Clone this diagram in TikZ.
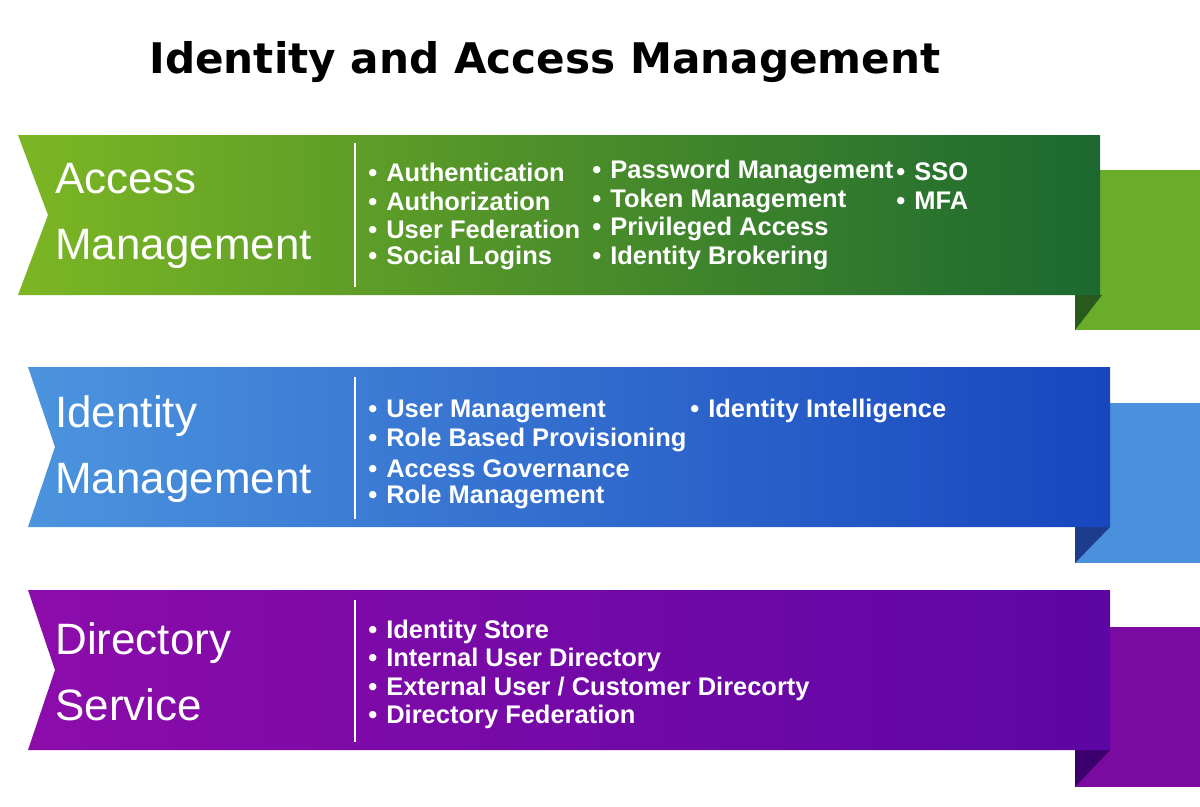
\documentclass[tikz,border=0pt]{standalone}
\usepackage{fontspec}
\setmainfont{Liberation Sans}
\newfontfamily\titlefont{DejaVu Sans}
\begin{document}
\begin{tikzpicture}[x=0.02cm,y=-0.02cm,
  item/.style={anchor=west,inner sep=0pt,text=white,font=\fontsize{14.5pt}{16pt}\selectfont\bfseries},
  biglabel/.style={anchor=west,inner sep=0pt,text=white,align=left,font=\fontsize{25pt}{37.5pt}\selectfont},
  divider/.style={white,line width=1.6pt}]
\useasboundingbox (0,0) rectangle (1200,806);
\fill[white] (0,0) rectangle (1200,806);
\node[font=\titlefont\bfseries\fontsize{24pt}{28pt}\selectfont] (title) at (545,62) {Identity and Access Management};
\newcommand{\itm}[1]{\makebox[0.36cm][l]{•}#1}
% banner 1
\fill[color={rgb,255:red,106;green,173;blue,40}] (1075,170) rectangle (1200,330);
\fill[color={rgb,255:red,40;green,90;blue,30}] (1075,295) -- (1102,295) -- (1075,330) -- cycle;
\shade[left color={rgb,255:red,124;green,182;blue,36},right color={rgb,255:red,28;green,104;blue,48}]
  (18,135) -- (1100,135) -- (1100,295) -- (18,295) -- (48,215) -- cycle;
% banner 2
\fill[color={rgb,255:red,74;green,144;blue,220}] (1075,403) rectangle (1200,563);
\fill[color={rgb,255:red,30;green,60;blue,140}] (1075,527) -- (1110,527) -- (1075,563) -- cycle;
\shade[left color={rgb,255:red,76;green,148;blue,222},right color={rgb,255:red,24;green,70;blue,190}]
  (28,367) -- (1110,367) -- (1110,527) -- (28,527) -- (55,447) -- cycle;
% banner 3
\fill[color={rgb,255:red,122;green,10;blue,160}] (1075,627) rectangle (1200,787);
\fill[color={rgb,255:red,60;green,0;blue,110}] (1075,750) -- (1110,750) -- (1075,787) -- cycle;
\shade[left color={rgb,255:red,140;green,12;blue,170},right color={rgb,255:red,92;green,6;blue,164}]
  (28,590) -- (1110,590) -- (1110,750) -- (28,750) -- (55,670) -- cycle;
% dividers
\draw[divider] (355,143) -- (355,287);
\draw[divider] (355,377) -- (355,519);
\draw[divider] (355,600) -- (355,742);
% labels
\node[biglabel] (l1) at (55,216) {Access\\Management};
\node[biglabel] (l2) at (55,449) {Identity\\Management};
\node[biglabel] (l3) at (55,672) {Directory\\Service};
% items banner 1
\node[item] (a1) at (368,172) {\itm{Authentication}};
\node[item] (a2) at (368,201) {\itm{Authorization}};
\node[item] (a3) at (368,229) {\itm{User Federation}};
\node[item] (a4) at (368,258) {\itm{Social Logins}};
\node[item] (a5) at (592,172) {\itm{Password Management}};
\node[item] (a6) at (592,201) {\itm{Token Management}};
\node[item] (a7) at (592,229) {\itm{Privileged Access}};
\node[item] (a8) at (592,258) {\itm{Identity Brokering}};
\node[item] (a9) at (896,172) {\itm{SSO}};
\node[item] (a10) at (896,201) {\itm{MFA}};
% banner 2
\node[item] (b1) at (368,411) {\itm{User Management}};
\node[item] (b2) at (368,440) {\itm{Role Based Provisioning}};
\node[item] (b3) at (368,469) {\itm{Access Governance}};
\node[item] (b4) at (368,497) {\itm{Role Management}};
\node[item] (b5) at (690,411) {\itm{Identity Intelligence}};
% banner 3
\node[item] (c1) at (368,632) {\itm{Identity Store}};
\node[item] (c2) at (368,660) {\itm{Internal User Directory}};
\node[item] (c3) at (368,689) {\itm{External User / Customer Direcorty}};
\node[item] (c4) at (368,717) {\itm{Directory Federation}};
\end{tikzpicture}
\end{document}
